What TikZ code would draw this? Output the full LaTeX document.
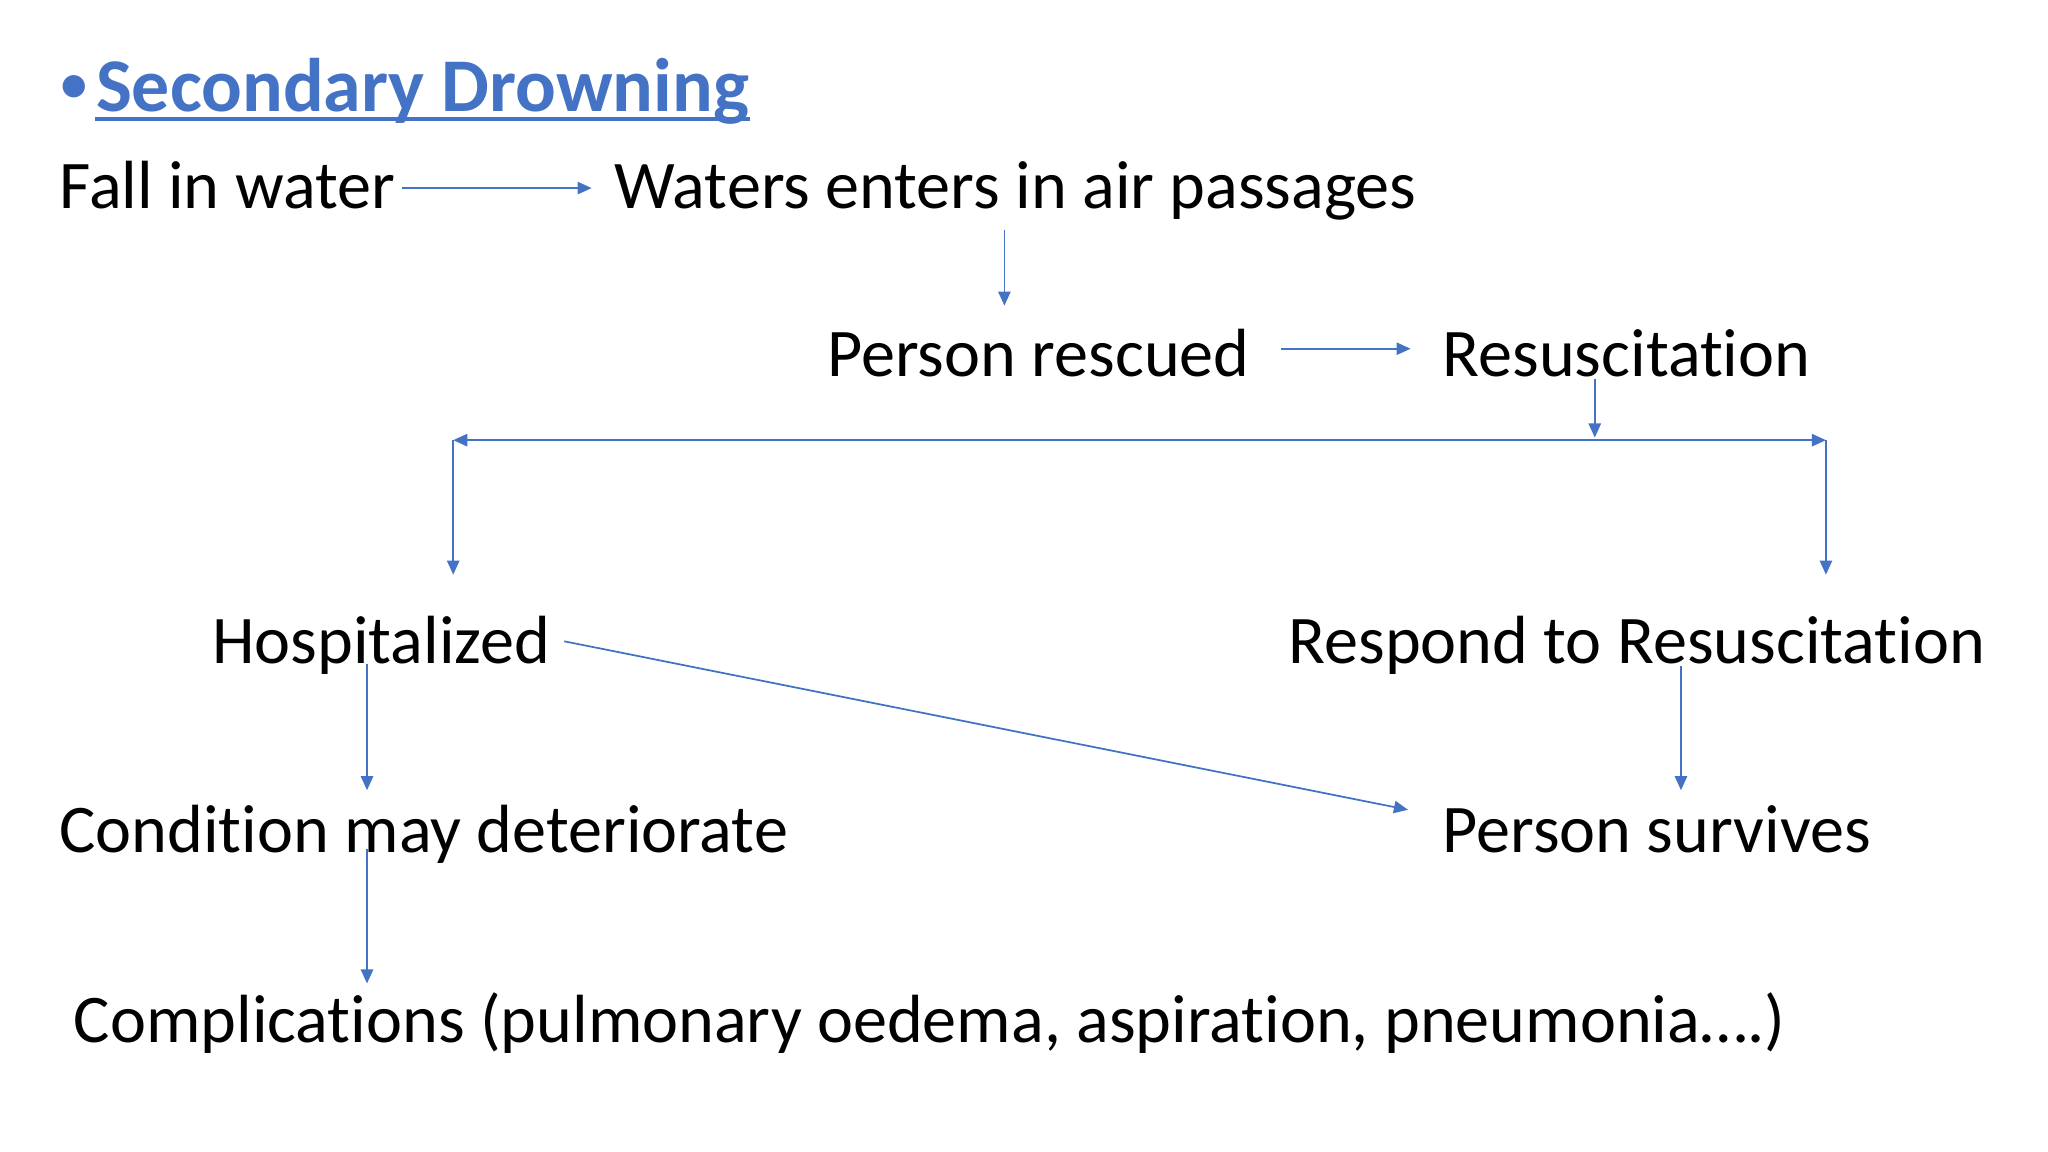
\documentclass[tikz,border=0pt]{standalone}
\usepackage{fontspec}
\setmainfont{Carlito}[Ligatures=NoCommon]
\usetikzlibrary{arrows.meta}
\definecolor{acc}{HTML}{4472C4}
\begin{document}
\begin{tikzpicture}[x=0.013061cm,y=-0.013061cm,
  lbl/.style={anchor=base west,inner sep=0pt,font=\fontsize{19.4}{23}\selectfont},
  arr/.style={draw=acc,line width=0.5pt,-{Triangle[length=4pt,width=3.5pt]}}]
\useasboundingbox (0,0) rectangle (1568,882);
\node[anchor=base west,inner sep=0pt,text=acc,font=\fontsize{18}{24}\selectfont] at (44,80) {\textbullet};
\node[anchor=base west,inner sep=0pt,text=acc,font=\fontsize{21.6}{24}\selectfont\bfseries] (title) at (73,85) {Secondary Drowning};
\draw[acc,line width=1.2pt] ([yshift=-2.2pt]title.base west) -- ([yshift=-2.2pt]title.base east);
\node[lbl] (fall) at (45,160) {Fall in water};
\node[lbl] (water) at (470,160) {Waters enters in air passages};
\node[lbl] (resc) at (633,288) {Person rescued};
\node[lbl] (resus) at (1104,288) {Resuscitation};
\node[lbl] (hosp) at (162,508) {Hospitalized};
\node[lbl] (resp) at (986,508) {Respond to Resuscitation};
\node[lbl] (cond) at (45,653) {Condition may deteriorate};
\node[lbl] (surv) at (1104,653) {Person survives};
\node[lbl] (comp) at (56,798) {Complications (pulmonary oedema, aspiration, pneumonia….)};
\coordinate (a1) at (308,144); \coordinate (a2) at (453,144);
\coordinate (b1) at (769,176); \coordinate (b2) at (769,234);
\coordinate (c1) at (981,267); \coordinate (c2) at (1080,267);
\coordinate (d1) at (1221,290); \coordinate (d2) at (1221,335);
\coordinate (hl) at (347,337); \coordinate (hr) at (1398,337);
\coordinate (hl2) at (347,440); \coordinate (hr2) at (1398,440);
\coordinate (e1) at (281,508); \coordinate (e2) at (281,605);
\coordinate (f1) at (432,491); \coordinate (f2) at (1078,620);
\coordinate (g1) at (1287,510); \coordinate (g2) at (1287,605);
\coordinate (k1) at (281,650); \coordinate (k2) at (281,753);
\draw[arr] (a1) -- (a2);
\draw[arr] (b1) -- (b2);
\draw[arr] (c1) -- (c2);
\draw[arr] (d1) -- (d2);
\draw[arr,{Triangle[length=4pt,width=3.5pt]}-{Triangle[length=4pt,width=3.5pt]}] (hl) -- (hr);
\draw[arr] (hl) -- (hl2);
\draw[arr] (hr) -- (hr2);
\draw[arr] (e1) -- (e2);
\draw[arr] (f1) -- (f2);
\draw[arr] (g1) -- (g2);
\draw[arr] (k1) -- (k2);
\end{tikzpicture}
\end{document}
